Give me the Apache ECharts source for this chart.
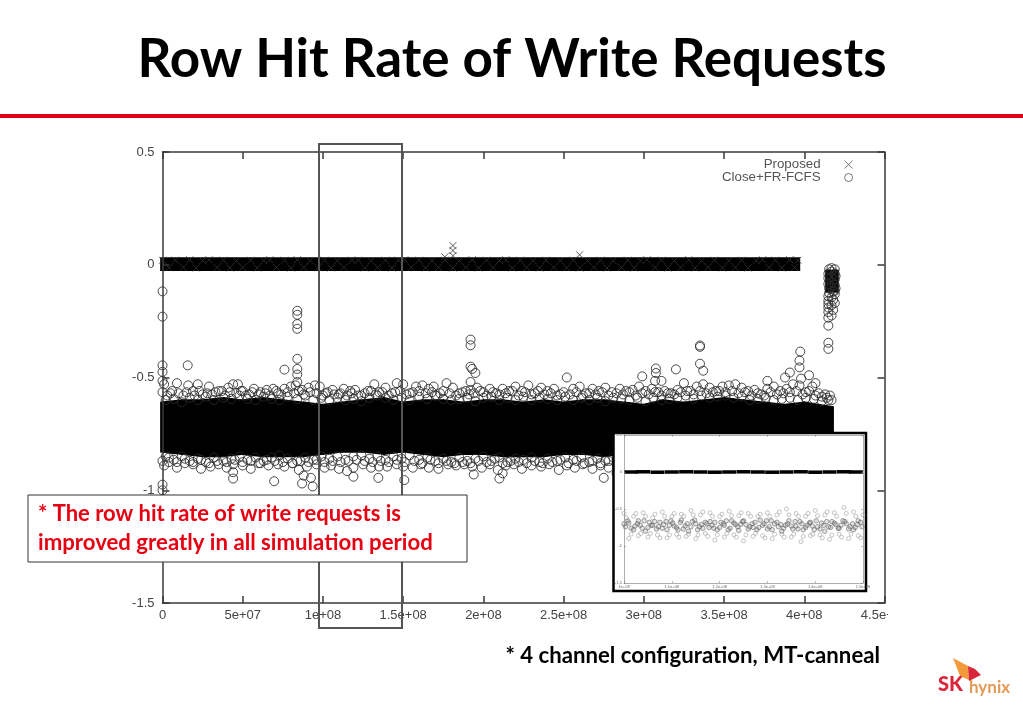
<!DOCTYPE html>
<html><head><meta charset="utf-8">
<style>html,body{margin:0;padding:0;background:#fff}#c{width:1023px;height:708px}</style>
<script src="https://cdn.jsdelivr.net/npm/echarts@6/dist/echarts.min.js"></script>
</head><body><div id="c"></div>
<script>
var xTickLabels=['0','5e+07','1e+08','1.5e+08','2e+08','2.5e+08','3e+08','3.5e+08','4e+08','4.5e+08'];
var insetXLabels=['1e+08','1.1e+08','1.2e+08','1.3e+08','1.4e+08','1.5e+08'];
/* x values are in millions of cycles */
var closeCoreX=[-1,12,25,38,50,62,75,88,100,112,125,138,150,162,175,188,200,212,225,238,250,262,275,288,300,312,325,338,350,362,375,388,400,418];
var closeCoreTop=[-0.61,-0.6,-0.6,-0.59,-0.6,-0.59,-0.6,-0.61,-0.62,-0.61,-0.6,-0.59,-0.61,-0.6,-0.6,-0.61,-0.6,-0.6,-0.61,-0.6,-0.61,-0.6,-0.6,-0.61,-0.62,-0.6,-0.61,-0.6,-0.59,-0.6,-0.61,-0.62,-0.61,-0.63];
var closeCoreBottom=[-0.83,-0.84,-0.85,-0.85,-0.84,-0.85,-0.85,-0.85,-0.84,-0.83,-0.83,-0.84,-0.83,-0.84,-0.85,-0.84,-0.84,-0.85,-0.85,-0.85,-0.84,-0.84,-0.85,-0.84,-0.84,-0.85,-0.84,-0.84,-0.85,-0.84,-0.84,-0.85,-0.84,-0.8];
var proposedCoreX=[-1,397];
var proposedCoreTop=[0.03,0.03];
var proposedCoreBottom=[-0.024,-0.024];
var tailCoreX=[413.5,421];
var tailCoreTop=[-0.025,-0.025];
var tailCoreBottom=[-0.12,-0.12];
var proposedFringe=[[0,0.02],[4,-0.013],[8,0.02],[13,-0.012],[17,0.022],[21,-0.014],[25,0.018],[29,0.022],[34,-0.012],[38,0.02],[42,-0.014],[46,0.018],[50,-0.012],[55,0.02],[59,-0.014],[63,0.018],[67,0.022],[71,-0.012],[76,0.02],[80,-0.014],[84,0.022],[88,-0.012],[92,0.018],[97,-0.013],[101,0.02],[105,-0.014],[109,0.018],[113,-0.012],[118,0.02],[122,0.02],[126,-0.014],[130,0.018],[134,-0.012],[139,0.02],[143,-0.014],[147,0.02],[151,0.022],[155,-0.012],[160,0.02],[164,-0.014],[168,0.018],[172,-0.012],[176,0.02],[181,-0.014],[185,0.018],[189,-0.012],[193,0.022],[197,-0.014],[202,0.02],[206,-0.012],[210,0.018],[214,0.022],[218,-0.014],[223,0.02],[227,-0.012],[231,0.018],[235,-0.014],[239,0.02],[244,-0.012],[248,0.018],[252,-0.013],[256,0.02],[260,-0.014],[265,0.018],[269,-0.012],[273,0.02],[277,-0.014],[281,0.018],[286,-0.012],[290,0.02],[294,-0.014],[298,0.018],[302,0.022],[307,-0.012],[311,0.02],[315,-0.014],[319,0.018],[323,-0.012],[328,0.022],[332,-0.014],[336,0.018],[340,-0.012],[344,0.02],[349,-0.014],[353,0.018],[357,-0.012],[361,0.02],[365,-0.014],[370,0.018],[374,0.022],[378,-0.012],[382,0.02],[386,-0.014],[391,0.022],[394,-0.012],[396,0.02]];
var proposedOutliers=[[181,0.085],[181,0.063],[181,0.04],[260,0.044],[176,0.035]];
var closeUpperOuter=[[1,-0.53],[5,-0.57],[9,-0.525],[13,-0.58],[16,-0.535],[19,-0.56],[22,-0.53],[25,-0.575],[29,-0.54],[33,-0.565],[37,-0.56],[41,-0.545],[44,-0.53],[47,-0.53],[50,-0.56],[54,-0.575],[57,-0.55],[61,-0.565],[65,-0.555],[69,-0.55],[72,-0.57],[76,-0.55],[80,-0.54],[83,-0.535],[87,-0.555],[91,-0.545],[95,-0.535],[98,-0.54],[102,-0.57],[106,-0.555],[110,-0.575],[113,-0.55],[117,-0.56],[120,-0.555],[124,-0.58],[128,-0.56],[132,-0.53],[135,-0.565],[139,-0.545],[143,-0.57],[146,-0.525],[150,-0.53],[154,-0.57],[158,-0.54],[162,-0.535],[166,-0.55],[169,-0.54],[173,-0.57],[177,-0.525],[181,-0.545],[185,-0.57],[189,-0.56],[192,-0.555],[196,-0.545],[200,-0.565],[204,-0.55],[208,-0.57],[212,-0.55],[216,-0.56],[220,-0.54],[224,-0.56],[228,-0.535],[232,-0.57],[236,-0.545],[240,-0.56],[244,-0.55],[248,-0.575],[252,-0.5],[256,-0.55],[260,-0.54],[264,-0.57],[268,-0.55],[272,-0.56],[276,-0.545],[280,-0.565],[285,-0.55],[289,-0.56],[293,-0.555],[297,-0.54],[301,-0.56],[305,-0.55],[309,-0.565],[313,-0.56],[317,-0.57],[321,-0.555],[325,-0.525],[329,-0.56],[333,-0.54],[337,-0.53],[341,-0.545],[345,-0.56],[349,-0.54],[353,-0.535],[357,-0.53],[361,-0.545],[365,-0.56],[369,-0.555],[373,-0.575],[377,-0.55],[381,-0.54],[385,-0.56],[389,-0.55],[393,-0.53],[397,-0.535],[401,-0.565],[405,-0.54],[409,-0.57],[413,-0.575],[416,-0.58]];
var closeUpperInner=[[2,-0.6],[7,-0.595],[12,-0.61],[17,-0.59],[22,-0.6],[27,-0.585],[32,-0.6],[38,-0.59],[43,-0.595],[48,-0.58],[53,-0.595],[58,-0.6],[63,-0.585],[68,-0.595],[73,-0.6],[78,-0.585],[84,-0.595],[89,-0.58],[94,-0.6],[99,-0.59],[104,-0.6],[109,-0.59],[114,-0.6],[119,-0.595],[124,-0.605],[129,-0.59],[134,-0.58],[139,-0.59],[144,-0.6],[149,-0.59],[154,-0.6],[160,-0.585],[165,-0.595],[170,-0.58],[175,-0.595],[180,-0.6],[185,-0.595],[190,-0.59],[195,-0.605],[200,-0.59],[205,-0.585],[210,-0.6],[215,-0.59],[220,-0.6],[225,-0.585],[230,-0.6],[235,-0.59],[240,-0.595],[246,-0.6],[251,-0.585],[256,-0.6],[261,-0.59],[266,-0.6],[271,-0.59],[276,-0.605],[281,-0.59],[286,-0.595],[291,-0.6],[296,-0.59],[301,-0.605],[306,-0.59],[311,-0.6],[316,-0.595],[321,-0.59],[326,-0.58],[331,-0.595],[336,-0.58],[341,-0.59],[346,-0.585],[351,-0.58],[356,-0.59],[361,-0.585],[366,-0.6],[371,-0.595],[376,-0.59],[381,-0.6],[386,-0.595],[391,-0.59],[396,-0.6],[401,-0.59],[406,-0.595],[411,-0.605],[415,-0.6]];
var closeUpperMid=[[0,-0.565],[3,-0.58],[6,-0.56],[10,-0.57],[15,-0.565],[20,-0.58],[23,-0.56],[28,-0.57],[31,-0.575],[35,-0.56],[39,-0.58],[42,-0.565],[46,-0.57],[49,-0.56],[52,-0.58],[56,-0.565],[60,-0.575],[64,-0.57],[67,-0.58],[71,-0.56],[74,-0.575],[78,-0.565],[82,-0.57],[85,-0.56],[88,-0.575],[92,-0.565],[96,-0.57],[100,-0.58],[103,-0.565],[107,-0.575],[111,-0.57],[115,-0.58],[118,-0.57],[122,-0.58],[126,-0.57],[130,-0.56],[133,-0.575],[137,-0.565],[141,-0.58],[145,-0.565],[148,-0.56],[152,-0.575],[156,-0.565],[160,-0.56],[164,-0.57],[168,-0.565],[171,-0.58],[175,-0.56],[179,-0.57],[183,-0.58],[187,-0.565],[191,-0.575],[194,-0.57],[198,-0.56],[202,-0.58],[206,-0.565],[210,-0.575],[214,-0.57],[218,-0.56],[222,-0.58],[226,-0.565],[230,-0.575],[234,-0.56],[238,-0.575],[242,-0.57],[246,-0.58],[250,-0.565],[254,-0.575],[258,-0.565],[262,-0.58],[266,-0.57],[270,-0.575],[274,-0.565],[278,-0.58],[283,-0.57],[287,-0.575],[291,-0.565],[295,-0.58],[299,-0.57],[303,-0.575],[307,-0.565],[311,-0.58],[315,-0.57],[319,-0.575],[323,-0.565],[327,-0.56],[331,-0.575],[335,-0.56],[339,-0.57],[343,-0.565],[347,-0.56],[351,-0.565],[355,-0.56],[359,-0.57],[363,-0.565],[367,-0.58],[371,-0.57],[375,-0.58],[379,-0.565],[383,-0.575],[387,-0.57],[391,-0.565],[395,-0.56],[399,-0.575],[403,-0.56],[407,-0.58],[411,-0.585],[414,-0.59],[417,-0.6]];
var closeLowerInner=[[2,-0.85],[7,-0.865],[12,-0.85],[17,-0.87],[22,-0.86],[27,-0.875],[32,-0.855],[38,-0.87],[43,-0.86],[48,-0.85],[53,-0.865],[58,-0.855],[63,-0.87],[68,-0.855],[73,-0.845],[78,-0.86],[84,-0.87],[89,-0.855],[94,-0.865],[99,-0.85],[104,-0.86],[109,-0.85],[114,-0.865],[119,-0.85],[124,-0.845],[129,-0.86],[134,-0.85],[139,-0.865],[144,-0.85],[149,-0.86],[154,-0.845],[160,-0.865],[165,-0.855],[170,-0.87],[175,-0.86],[180,-0.875],[185,-0.855],[190,-0.87],[195,-0.86],[200,-0.85],[205,-0.87],[210,-0.855],[215,-0.875],[220,-0.86],[225,-0.865],[230,-0.855],[235,-0.875],[240,-0.86],[246,-0.87],[251,-0.855],[256,-0.865],[261,-0.855],[266,-0.875],[271,-0.86],[276,-0.87],[281,-0.855],[285,-0.875]];
var closeLowerMid=[[0,-0.87],[4,-0.855],[9,-0.875],[14,-0.86],[19,-0.875],[24,-0.865],[29,-0.88],[34,-0.87],[40,-0.875],[45,-0.865],[50,-0.875],[55,-0.87],[60,-0.88],[65,-0.865],[70,-0.87],[75,-0.875],[81,-0.88],[86,-0.87],[91,-0.875],[96,-0.865],[101,-0.875],[106,-0.87],[111,-0.875],[116,-0.87],[121,-0.865],[126,-0.87],[131,-0.875],[136,-0.87],[141,-0.875],[146,-0.865],[151,-0.875],[157,-0.87],[162,-0.88],[167,-0.865],[172,-0.88],[177,-0.87],[182,-0.88],[187,-0.875],[192,-0.88],[197,-0.87],[202,-0.875],[207,-0.86],[212,-0.88],[217,-0.87],[222,-0.875],[227,-0.88],[232,-0.87],[237,-0.88],[243,-0.875],[248,-0.865],[253,-0.88],[258,-0.87],[263,-0.88],[268,-0.87],[273,-0.88],[278,-0.87],[283,-0.865]];
var closeLowerOuter=[[1,-0.89],[4,-0.875],[9,-0.9],[14,-0.88],[19,-0.885],[24,-0.905],[30,-0.895],[35,-0.885],[40,-0.9],[44,-0.885],[50,-0.89],[55,-0.905],[61,-0.88],[66,-0.89],[72,-0.885],[76,-0.895],[81,-0.88],[85,-0.91],[90,-0.895],[96,-0.885],[101,-0.9],[105,-0.89],[110,-0.905],[115,-0.915],[119,-0.9],[125,-0.885],[130,-0.9],[135,-0.895],[140,-0.895],[146,-0.885],[150,-0.895],[156,-0.9],[161,-0.885],[166,-0.9],[172,-0.905],[178,-0.885],[183,-0.89],[188,-0.885],[193,-0.895],[199,-0.9],[204,-0.885],[209,-0.91],[214,-0.89],[219,-0.885],[224,-0.905],[230,-0.89],[236,-0.895],[241,-0.885],[247,-0.91],[252,-0.89],[257,-0.9],[262,-0.885],[268,-0.905],[273,-0.89],[278,-0.9],[283,-0.885]];
var closeOutliers=[[0,-0.118],[0,-0.23],[0,-0.446],[0,-0.475],[0,-0.515],[84,-0.204],[84,-0.222],[84,-0.263],[84,-0.284],[84,-0.417],[84,-0.462],[84,-0.487],[84,-0.52],[76,-0.465],[15.7,-0.446],[192,-0.332],[192,-0.357],[192,-0.452],[193,-0.462],[195,-0.48],[192,-0.52],[335,-0.358],[335,-0.364],[335,-0.439],[337,-0.47],[320,-0.464],[307.5,-0.46],[307.5,-0.48],[307,-0.515],[311,-0.515],[299,-0.495],[397.5,-0.385],[397,-0.425],[397,-0.455],[391,-0.478],[388,-0.5],[398,-0.505],[403,-0.49],[407,-0.525],[377,-0.515],[44,-0.948],[44,-0.92],[69.6,-0.96],[87,-0.97],[93.6,-0.983],[92.5,-0.945],[134.5,-0.945],[150.7,-0.955],[119,-0.94],[194,-0.93],[210,-0.948],[212,-0.925],[0,-0.975],[0,-1],[88,-0.935],[275,-0.945],[284,-0.955],[283,-0.925]];
var closeTail=[[415.5,-0.02],[417,-0.015],[419,-0.02],[415,-0.04],[417,-0.03],[419,-0.04],[419.5,-0.05],[415,-0.06],[417,-0.055],[419,-0.065],[415,-0.085],[417,-0.08],[419,-0.09],[415.5,-0.105],[417,-0.1],[419.5,-0.105],[415.5,-0.125],[418,-0.12],[419,-0.115],[415,-0.14],[417,-0.145],[419,-0.13],[415,-0.16],[418,-0.155],[415,-0.175],[417,-0.18],[419,-0.17],[415,-0.19],[418,-0.2],[415,-0.21],[417,-0.225],[415,-0.235],[415,-0.27],[415,-0.346],[415,-0.373]];
var insetProposed=[[101.5,0],[104,0.003],[107,-0.003],[110,0],[113,0.003],[116,0],[119,-0.003],[122,0],[125,0.003],[128,0],[131,-0.003],[134,0],[137,0.003],[140,-0.003],[143,0],[146,0.003],[148.5,0]];
var insetCloseLight=[[100,-0.56],[101,-0.9],[102,-0.6],[103,-0.86],[104,-0.55],[105,-0.88],[106,-0.62],[107,-0.85],[108,-0.54],[109,-0.89],[110,-0.6],[111,-0.84],[112,-0.57],[113,-0.87],[114,-0.52],[115,-0.9],[116,-0.58],[117,-0.83],[118,-0.55],[119,-0.92],[120,-0.6],[121,-0.88],[122,-0.53],[123,-0.85],[124,-0.59],[125,-0.93],[126,-0.56],[127,-0.87],[128,-0.6],[129,-0.86],[130,-0.55],[131,-0.9],[132,-0.58],[133,-0.84],[134,-0.5],[135,-0.88],[136,-0.56],[137,-0.94],[138,-0.6],[139,-0.86],[140,-0.52],[141,-0.85],[142,-0.58],[143,-0.91],[144,-0.55],[145,-0.84],[146,-0.48],[147,-0.9],[148,-0.54],[149,-0.86],[150,-0.58],
[100.5,-0.62],[101.5,-0.84],[102.5,-0.56],[103.5,-0.83],[104.5,-0.6],[105.5,-0.83],[106.5,-0.57],[107.5,-0.89],[108.5,-0.6],[109.5,-0.85],[110.5,-0.56],[111.5,-0.88],[112.5,-0.6],[113.5,-0.84],[114.5,-0.58],[115.5,-0.85],[116.5,-0.54],[117.5,-0.87],[118.5,-0.6],[119.5,-0.85],[120.5,-0.57],[121.5,-0.83],[122.5,-0.59],[123.5,-0.88],[124.5,-0.55],[125.5,-0.85],[126.5,-0.6],[127.5,-0.83],[128.5,-0.57],[129.5,-0.89],[130.5,-0.6],[131.5,-0.84],[132.5,-0.54],[133.5,-0.88],[134.5,-0.58],[135.5,-0.84],[136.5,-0.6],[137.5,-0.87],[138.5,-0.56],[139.5,-0.84],[140.5,-0.59],[141.5,-0.89],[142.5,-0.54],[143.5,-0.85],[144.5,-0.6],[145.5,-0.88],[146.5,-0.56],[147.5,-0.84],[148.5,-0.6],[149.5,-0.89]];
var insetCloseDark=[[100,-0.7],[101.5,-0.76],[103,-0.66],[104.5,-0.8],[106,-0.72],[107.5,-0.68],[109,-0.78],[110.5,-0.73],[112,-0.65],[113.5,-0.8],[115,-0.7],[116.5,-0.76],[118,-0.67],[119.5,-0.78],[121,-0.72],[122.5,-0.66],[124,-0.79],[125.5,-0.71],[127,-0.75],[128.5,-0.65],[130,-0.77],[131.5,-0.7],[133,-0.8],[134.5,-0.66],[136,-0.73],[137.5,-0.78],[139,-0.68],[140.5,-0.74],[142,-0.8],[143.5,-0.67],[145,-0.76],[146.5,-0.7],[148,-0.78],[149.5,-0.68],[100.8,-0.66],[102.3,-0.73],[103.8,-0.76],[105.3,-0.68],[106.8,-0.77],[108.3,-0.71],[109.8,-0.66],[111.3,-0.78],[112.8,-0.73],[114.3,-0.67],[115.8,-0.74],[117.3,-0.7],[118.8,-0.76],[120.3,-0.68],[121.8,-0.78],[123.3,-0.71],[124.8,-0.67],[126.3,-0.74],[127.8,-0.78],[129.3,-0.7],[130.8,-0.66],[132.3,-0.74],[133.8,-0.72],[135.3,-0.77],[136.8,-0.67],[138.3,-0.72],[139.8,-0.78],[141.3,-0.69],[142.8,-0.74],[144.3,-0.71],[145.8,-0.66],[147.3,-0.74],[148.8,-0.71],
[100.3,-0.74],[101,-0.69],[102,-0.78],[102.8,-0.7],[103.4,-0.72],[104.2,-0.66],[105,-0.75],[105.7,-0.72],[106.4,-0.67],[107.2,-0.74],[108,-0.76],[108.8,-0.67],[109.5,-0.72],[110.2,-0.69],[111,-0.75],[111.8,-0.68],[112.4,-0.77],[113.2,-0.7],[114,-0.74],[114.8,-0.65],[115.4,-0.78],[116.2,-0.71],[117,-0.68],[117.8,-0.75],[118.4,-0.72],[119,-0.68],[120,-0.75],[120.8,-0.7],[121.4,-0.66],[122.2,-0.76],[123,-0.69],[123.8,-0.74],[124.4,-0.71],[125,-0.66],[126,-0.77],[126.8,-0.7],[127.4,-0.68],[128.2,-0.75],[129,-0.72],[129.8,-0.66],[130.4,-0.74],[131,-0.78],[132,-0.68],[132.8,-0.71],[133.4,-0.76],[134.2,-0.7],[135,-0.73],[135.8,-0.67],[136.4,-0.77],[137.2,-0.7],[138,-0.75],[138.8,-0.69],[139.4,-0.73],[140.2,-0.66],[141,-0.77],[141.8,-0.72],[142.4,-0.67],[143.2,-0.75],[144,-0.69],[144.8,-0.76],[145.4,-0.72],[146.2,-0.67],[147,-0.77],[147.8,-0.7],[148.4,-0.75],[149,-0.66],[149.8,-0.74]];

var chart=echarts.init(document.getElementById('c'),null,{renderer:'canvas'});
var F='"Liberation Sans",Arial,sans-serif', L='Lato,"Open Sans",sans-serif', RED='#e3001b';
var axisCol='#3a3a3a', textCol='#444';
function bandSeries(xs,tops,bots,xi,yi,z){
  return {type:'custom',xAxisIndex:xi,yAxisIndex:yi,z:z,silent:true,clip:false,
    data:xs.slice(0,-1).map(function(x,i){return [x,tops[i],bots[i],xs[i+1],tops[i+1],bots[i+1]];}),
    encode:{x:0,y:1},
    renderItem:function(p,api){
      var a=api.coord([api.value(0),api.value(1)]),b=api.coord([api.value(3),api.value(4)]),
          c=api.coord([api.value(3),api.value(5)]),d=api.coord([api.value(0),api.value(2)]);
      return {type:'polygon',shape:{points:[a,b,c,d]},style:{fill:'#000',stroke:'#000',lineWidth:1.5}};
    }};
}
var crossPath='path://M0 0L10 10M10 0L0 10';
var closeAll=[].concat(closeUpperOuter,closeUpperMid,closeUpperInner,closeLowerInner,closeLowerMid,closeLowerOuter,closeOutliers,closeTail);
var topAxis=function(gi,min,max,interval,z){return {type:'value',gridIndex:gi,position:'top',min:min,max:max,interval:interval,z:z,
  axisLine:{show:true,onZero:false,lineStyle:{color:gi?'#777':axisCol,width:gi?0.6:1.5}},axisTick:{show:true,inside:true,length:gi?2:7,lineStyle:{color:gi?'#777':axisCol,width:gi?0.5:1.5}},axisLabel:{show:false},splitLine:{show:false}};};
var rightAxis=function(gi,z){return {type:'value',gridIndex:gi,position:'right',min:-1.5,max:0.5,interval:0.5,z:z,
  axisLine:{show:true,onZero:false,lineStyle:{color:gi?'#777':axisCol,width:gi?0.6:1.5}},axisTick:{show:true,inside:true,length:gi?2:7,lineStyle:{color:gi?'#777':axisCol,width:gi?0.5:1.5}},axisLabel:{show:false},splitLine:{show:false}};};
chart.setOption({
  animation:false,backgroundColor:'#fff',
  grid:[{left:162.5,top:152,width:722,height:451,containLabel:false},
        {left:624,top:435,width:239,height:148,containLabel:false}],
  legend:{show:true,orient:'vertical',align:'right',right:170,top:158,itemGap:0,itemWidth:10,itemHeight:8,padding:0,
    selectedMode:false,data:[{name:'Proposed'},{name:'Close+FR-FCFS'}],
    itemStyle:{borderWidth:0.8,borderColor:'#555',color:'rgba(0,0,0,0)'},
    textStyle:{fontFamily:F,fontSize:13.3,color:'#555',lineHeight:12,padding:[0,18,0,0]}},
  xAxis:[
    {type:'value',gridIndex:0,min:0,max:450,interval:50,z:3,
     axisLine:{show:true,onZero:false,lineStyle:{color:axisCol,width:1.5}},
     axisTick:{show:true,inside:true,length:7,lineStyle:{color:axisCol,width:1.5}},
     axisLabel:{margin:6,fontFamily:F,fontSize:13,color:textCol,hideOverlap:false,showMinLabel:true,showMaxLabel:true,
       formatter:function(v){return xTickLabels[Math.round(v/50)];}},
     splitLine:{show:false}},
    topAxis(0,0,450,50,3),
    {type:'value',gridIndex:1,min:100,max:150,interval:10,z:6,
     axisLine:{show:true,onZero:false,lineStyle:{color:'#777',width:0.6}},
     axisTick:{show:true,inside:true,length:2,lineStyle:{color:'#777',width:0.5}},
     axisLabel:{margin:2,fontFamily:F,fontSize:4,color:'#666',showMinLabel:true,showMaxLabel:true,
       formatter:function(v){return insetXLabels[Math.round((v-100)/10)];}},
     splitLine:{show:false}},
    topAxis(1,100,150,10,6)
  ],
  yAxis:[
    {type:'value',gridIndex:0,min:-1.5,max:0.5,interval:0.5,z:3,
     axisLine:{show:true,onZero:false,lineStyle:{color:axisCol,width:1.5}},
     axisTick:{show:true,inside:true,length:7,lineStyle:{color:axisCol,width:1.5}},
     axisLabel:{margin:8,fontFamily:F,fontSize:13,color:textCol},splitLine:{show:false}},
    rightAxis(0,3),
    {type:'value',gridIndex:1,min:-1.5,max:0.5,interval:0.5,z:6,
     axisLine:{show:true,onZero:false,lineStyle:{color:'#777',width:0.6}},
     axisTick:{show:true,inside:true,length:2,lineStyle:{color:'#777',width:0.5}},
     axisLabel:{margin:2,fontFamily:F,fontSize:4,color:'#666'},splitLine:{show:false}},
    rightAxis(1,6)
  ],
  series:[
    bandSeries(closeCoreX,closeCoreTop,closeCoreBottom,0,0,2),
    bandSeries(tailCoreX,tailCoreTop,tailCoreBottom,0,0,2),
    bandSeries(proposedCoreX,proposedCoreTop,proposedCoreBottom,0,0,2),
    {name:'Proposed',type:'scatter',xAxisIndex:0,yAxisIndex:0,z:2,clip:false,symbol:crossPath,symbolSize:7,
     data:[].concat(proposedFringe,proposedOutliers),
     itemStyle:{color:'none',borderColor:'#333',borderWidth:0.8,opacity:1}},
    {name:'Close+FR-FCFS',type:'scatter',xAxisIndex:0,yAxisIndex:0,z:2,clip:false,symbol:'circle',symbolSize:9,
     data:closeAll,itemStyle:{color:'rgba(0,0,0,0)',borderColor:'#2a2a2a',borderWidth:0.85,opacity:1}},
    {type:'scatter',xAxisIndex:2,yAxisIndex:2,z:5,clip:false,symbol:'circle',symbolSize:4,data:insetCloseLight,
     itemStyle:{color:'rgba(0,0,0,0)',borderColor:'#aaa',borderWidth:0.7,opacity:1}},
    {type:'scatter',xAxisIndex:2,yAxisIndex:2,z:5,clip:false,symbol:'circle',symbolSize:4.5,data:insetCloseDark,
     itemStyle:{color:'rgba(60,60,60,0.15)',borderColor:'#666',borderWidth:0.6,opacity:1}},
    {type:'scatter',xAxisIndex:2,yAxisIndex:2,z:5,clip:false,symbol:'rect',symbolSize:[14,3.5],data:insetProposed,
     itemStyle:{color:'#000',opacity:1}}
  ],
  graphic:{elements:[
    {type:'text',x:512,y:60,z:20,style:{text:'Row Hit Rate of Write Requests',fontFamily:L,fontWeight:'bold',fontSize:53,fill:'#000',textAlign:'center',textVerticalAlign:'middle'}},
    {type:'rect',shape:{x:0,y:114,width:1023,height:4},z:20,style:{fill:RED}},
    {type:'rect',shape:{x:888,y:606,width:135,height:20},z:8,style:{fill:'#fff'}},
    {type:'rect',shape:{x:613.5,y:433,width:252.5,height:158},z:4,style:{fill:'#fff',stroke:'#000',lineWidth:2.5}},
    {type:'rect',shape:{x:319,y:144,width:83,height:484},z:9,style:{fill:'none',stroke:'#555',lineWidth:2}},
    {type:'rect',shape:{x:28,y:495,width:439,height:67},z:10,style:{fill:'#fff',stroke:'#333',lineWidth:1}},
    {type:'text',x:38,y:514,z:11,style:{text:'* The row hit rate of write requests is',fontFamily:L,fontWeight:'bold',fontSize:22,fill:'#e60012',textVerticalAlign:'middle'}},
    {type:'text',x:38,y:543,z:11,style:{text:'improved greatly in all simulation period',fontFamily:L,fontWeight:'bold',fontSize:22.2,fill:'#e60012',textVerticalAlign:'middle'}},
    {type:'text',x:880,y:656,z:11,style:{text:'* 4 channel configuration, MT-canneal',fontFamily:L,fontWeight:'bold',fontSize:22.2,fill:'#000',textAlign:'right',textVerticalAlign:'middle'}},
    {type:'polygon',z:11,shape:{points:[[953,658],[968,666],[969,680],[960,676]]},style:{fill:'#f39a3c'}},
    {type:'polygon',z:11,shape:{points:[[968,666],[975,669],[981,675],[969,681]]},style:{fill:'#d9263a'}},
    {type:'text',x:938,y:685,z:11,style:{text:'SK',fontFamily:L,fontWeight:900,fontSize:20,fill:'#d9263a',textVerticalAlign:'middle'}},
    {type:'text',x:969,y:688,z:11,style:{text:'hynix',fontFamily:L,fontWeight:'bold',fontSize:17,fill:'#e39a55',textVerticalAlign:'middle'}}
  ]}
});
</script></body></html>
